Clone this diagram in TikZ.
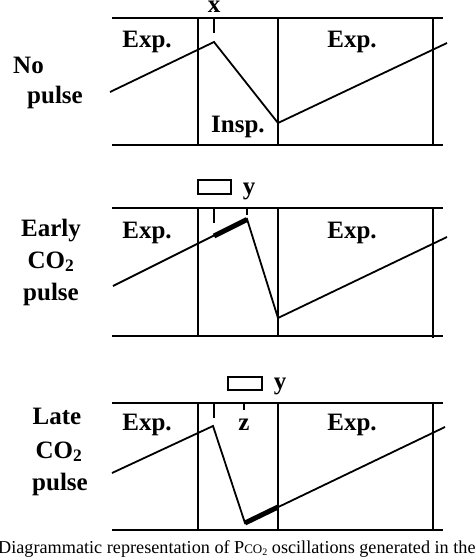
\documentclass[tikz,border=0pt]{standalone}
\usepackage{fontspec}
\setmainfont{Liberation Serif}
\begin{document}
\begin{tikzpicture}[x=1pt,y=-1pt,
  frame/.style={line width=1.8pt},
  trace/.style={line width=1.8pt, line join=miter},
  pulseseg/.style={line width=5pt},
  ticky/.style={line width=1.3pt},
  pbox/.style={line width=1.3pt},
  lbl/.style={font=\fontsize{25}{25}\selectfont\bfseries, inner sep=0pt, anchor=base},
  side/.style={lbl},
  captext/.style={font=\fontsize{18.2}{18.2}\selectfont, inner sep=0pt, anchor=base west}]
\useasboundingbox (0,0) rectangle (474,557);
\clip (0,0) rectangle (474,557);

% ---------- Panel 1: No pulse ----------
\draw[frame] (112,18) -- (443,18);
\draw[frame] (112,145) -- (443,145);
\draw[frame] (198,18) -- (198,145);
\draw[frame] (278,18) -- (278,145);
\draw[frame] (433,18) -- (433,145);
\draw[trace] (110,92) -- (214,42) -- (278,123) -- (447,43);
\draw[ticky] (214,18) -- (214,33);
\node[lbl] (x1) at (214,12) {x};
\node[lbl] (e1a) at (147,47) {Exp.};
\node[lbl] (e1b) at (352,47) {Exp.};
\node[lbl] (i1) at (238,132) {Insp.};
\node[side, anchor=base west] (n1) at (13,73) {No};
\node[side, anchor=base west] (p1) at (27,103) {pulse};

% ---------- Panel 2: Early CO2 pulse ----------
\draw[frame] (112,208) -- (443,208);
\draw[frame] (112,336) -- (443,336);
\draw[frame] (198,208) -- (198,336);
\draw[frame] (278,208) -- (278,336);
\draw[frame] (433,208) -- (433,338);
\draw[trace] (113,286) -- (247,219) -- (278,318) -- (447,237);
\draw[pulseseg] (214,236) -- (247,219.5);
\draw[ticky] (214,208) -- (214,223);
\draw[ticky] (247,208) -- (247,215);
\draw[pbox] (198,180) rectangle (231,194);
\node[lbl] (y2) at (249,194) {y};
\node[lbl] (e2a) at (147,238) {Exp.};
\node[lbl] (e2b) at (352,238) {Exp.};
\node[side] (ea2) at (51,236) {Early};
\node[side] (co2) at (51,268) {CO\textsubscript{2}};
\node[side] (pu2) at (51,300) {pulse};

% ---------- Panel 3: Late CO2 pulse ----------
\draw[frame] (112,403) -- (443,403);
\draw[frame] (112,530) -- (443,530);
\draw[frame] (198,403) -- (198,530);
\draw[frame] (278,403) -- (278,530);
\draw[frame] (433,403) -- (433,530);
\draw[trace] (112,473) -- (213,426) -- (245,523) -- (445,427);
\draw[pulseseg] (245,523) -- (278,507);
\draw[ticky] (214,403) -- (214,418);
\draw[ticky] (244,403) -- (244,410);
\draw[pbox] (228,377) rectangle (262,390);
\node[lbl] (y3) at (280,389) {y};
\node[lbl] (z3) at (244,430) {z};
\node[lbl] (e3a) at (147,430) {Exp.};
\node[lbl] (e3b) at (352,430) {Exp.};
\node[side] (la3) at (57,424) {Late};
\node[side] (co3) at (59,458) {CO\textsubscript{2}};
\node[side] (pu3) at (60,490) {pulse};

% ---------- caption ----------
\node[captext] (caption) at (-2,553) {Diagrammatic representation of P{\fontsize{13}{13}\selectfont CO}\raisebox{-2pt}{\fontsize{10}{10}\selectfont 2} oscillations generated in the};
\end{tikzpicture}
\end{document}
